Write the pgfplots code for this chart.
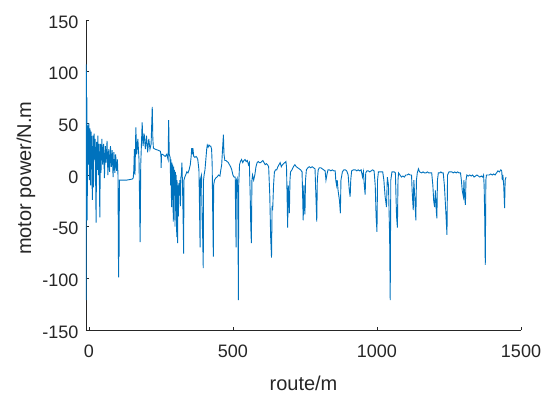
\documentclass[border=0pt]{standalone}
\usepackage{pgfplots}
\pgfplotsset{compat=1.18}
\usepackage{fontspec}
\setmainfont{Liberation Sans}
\definecolor{mblue}{rgb}{0,0.447,0.741}
\definecolor{axgray}{RGB}{38,38,38}
\pgfplotstableread{
x y
-9.5 -121
-9 107
-8 -40
-7 75
-6 -44
-4 48
-2 10
0 50
2 -5
4 45
6 -10
8 42
10 20
12 -24
14 38
16 -12
18 40
20 15
22 35
25 -46
27 32
29 5
31 38
33 0
35 30
38 -41
40 30
42 2
45 35
48 10
51 30
54 -3
57 28
60 12
63 33
66 0
69 25
72 3
75 28
78 8
81 24
84 -2
87 22
90 2
93 20
96 4
99 15
101 0
103 -99
104 -20
105 -79
106 -5
110 -5
130 -5
150 -4
154 -3
156 5
158 25
160 0
163 46
166 20
170 35
174 15
178 -65
180 10
185 51
188 28
192 40
196 25
200 38
204 22
208 35
212 25
216 30
220 66
222 35
224 26
230 25
240 24
248 23
250 20
251 7
252 20
256 20
260 19
265 18
270 20
275 15
277 53
279 20
282 17
284 -10
285 15
287 -31
288 12
290 -24
291 10
293 -45
294 8
296 -20
297 5
299 -50
300 3
302 -35
303 0
305 -60
306 -5
308 -66
309 -10
311 -40
312 -8
314 -20
316 -5
318 -30
319 -3
321 0
323 12
325 -10
327 -40
329 -76
330 -5
333 -2
336 0
340 3
344 2
348 5
352 10
355 18
357 26
359 20
361 26
364 18
368 17
372 18
375 17
378 15
380 10
382 5
384 -30
386 -70
387 -5
389 -2
391 0
393 -40
395 -60
397 -90
398 -5
400 0
403 5
406 15
409 25
411 29
414 27
417 29
420 28
423 28
426 25
428 10
430 -40
432 -79
433 -10
436 -5
440 -3
445 -2
450 0
455 -1
458 5
461 10
464 25
467 39
469 20
472 14
476 14
480 13
484 12
488 10
492 8
496 5
500 0
504 -2
508 -2
509 -30
511 -70
512 -5
515 -3
517 -20
519 -121
520 -10
523 10
526 13
530 15
534 12
538 14
542 15
546 13
550 14
554 10
557 12
560 -20
562 -50
564 -66
566 -5
568 0
572 -5
576 0
580 8
584 12
588 13
592 12
596 12
600 13
604 14
608 12
612 10
616 11
620 10
624 8
628 -20
631 -60
634 -80
636 -30
638 -34
641 -10
644 3
648 5
652 5
656 8
660 10
664 12
668 8
672 10
676 11
680 12
684 13
686 8
688 -20
690 -51
692 -10
694 -20
696 -37
698 -5
700 3
705 5
710 8
715 10
720 8
725 7
730 6
735 5
740 3
742 -20
744 -44
746 -10
748 -30
750 -38
752 -5
755 5
760 7
765 8
770 7
775 8
780 7
785 6
788 -20
791 -45
793 -5
796 5
800 7
805 7
810 6
815 5
820 4
823 -5
826 0
830 5
835 5
840 4
845 5
850 4
855 4
857 -5
860 -10
862 -5
865 -15
870 -25
873 -37
875 -5
880 3
885 5
890 5
895 4
900 0
904 -15
907 -21
909 -5
912 4
918 5
925 5
930 4
935 5
940 4
945 5
950 -2
953 3
956 -10
959 -19
961 2
965 4
970 4
975 3
980 4
985 5
990 4
994 -10
997 -40
1000 -55
1002 -5
1005 3
1010 3
1015 3
1020 3
1024 -5
1028 -20
1033 -31
1036 -2
1040 -10
1044 -60
1046 -121
1048 -5
1052 3
1056 3
1060 3
1064 2
1066 -20
1068 -40
1071 -51
1073 -5
1075 2
1080 0
1085 -2
1090 -1
1095 -2
1100 0
1105 0
1110 1
1115 0
1120 0
1122 -15
1126 -34
1128 -5
1131 -20
1135 -44
1137 -5
1140 2
1144 6
1148 3
1155 2
1160 3
1165 2
1170 2
1175 3
1180 2
1185 2
1190 2
1194 -10
1197 -25
1200 -31
1203 -15
1206 -35
1208 -42
1210 -5
1213 2
1218 2
1222 3
1226 2
1230 2
1234 -10
1238 -30
1243 -58
1245 0
1250 3
1255 3
1260 3
1265 2
1270 3
1275 2
1280 3
1285 2
1290 2
1293 -5
1296 -15
1300 -21
1302 -5
1304 -20
1307 -29
1309 -5
1312 0
1317 -1
1322 0
1327 -1
1332 0
1337 -2
1342 -1
1347 0
1352 -1
1357 -2
1362 -1
1367 -2
1370 0
1372 -10
1374 -40
1376 -87
1378 -5
1380 0
1385 0
1390 0
1395 1
1400 0
1405 1
1410 0
1415 2
1420 4
1425 3
1430 5
1433 4
1435 -5
1437 0
1440 -10
1443 -32
1445 -5
1448 -2
}\datatable
\begin{document}
\begin{tikzpicture}
\begin{axis}[
  name=ax,
  scale only axis,
  width=435pt, height=310pt,
  xmin=-10, xmax=1500,
  ymin=-150, ymax=150,
  xtick={0,500,1000,1500},
  ytick={-150,-100,-50,0,50,100,150},
  axis lines*=left,
  axis line style={axgray, line width=0.6pt},
  tick style={axgray, line width=0.5pt},
  tick align=inside,
  major tick length=3pt,
  /pgf/number format/assume math mode=true,
  /pgf/number format/1000 sep={},
  tick label style={font=\fontsize{18}{21}\selectfont, text=axgray},
  xticklabel style={yshift=-11pt},
  yticklabel style={xshift=-4pt, yshift=-2pt},
  label style={font=\fontsize{20}{24}\selectfont, text=axgray},
  xlabel={route/m},
  ylabel={motor power/N.m},
  xlabel style={at={(axis description cs:0.5,0)}, anchor=center, yshift=-53pt},
  ylabel style={at={(axis description cs:-0.138,0.49)}, anchor=center},
]
\addplot[mblue, line width=0.9pt, mark=none] table[x=x,y=y] {\datatable};
\end{axis}
\path ([xshift=-86pt,yshift=-68pt]ax.south west) rectangle ([xshift=29pt,yshift=20pt]ax.north east);
\end{tikzpicture}
\end{document}
